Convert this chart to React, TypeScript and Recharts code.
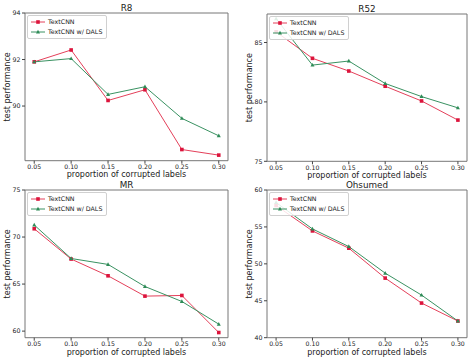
import React from "react";
import {
  LineChart,
  Line,
  XAxis,
  YAxis,
  ReferenceArea,
  Legend,
} from "recharts";

// corruption ratios on the x axis
const proportions = [0.05, 0.1, 0.15, 0.2, 0.25, 0.3];
const xTicks = [0.05, 0.1, 0.15, 0.2, 0.25, 0.3];

const r8TextCnn = [91.9, 92.41, 90.24, 90.7, 88.13, 87.89];
const r8Dals = [91.9, 92.04, 90.5, 90.83, 89.47, 88.72];
const r8Ticks = [90, 92, 94];

const r52TextCnn = [85.9, 83.67, 82.6, 81.32, 80.08, 78.47];
const r52Dals = [87.0, 83.1, 83.44, 81.55, 80.45, 79.5];
const r52Ticks = [75, 80, 85];

const mrTextCnn = [70.88, 67.66, 65.88, 63.72, 63.79, 59.85];
const mrDals = [71.28, 67.72, 67.09, 64.74, 63.15, 60.74];
const mrTicks = [60, 65, 70, 75];

const ohsumedTextCnn = [57.9, 54.46, 52.12, 48.07, 44.69, 42.26];
const ohsumedDals = [58.3, 54.73, 52.34, 48.74, 45.77, 42.26];
const ohsumedTicks = [40, 45, 50, 55, 60];

const RED = "#dc143c";
const RED_LINE = "#e4405a";
const GREEN = "#2e8b57";
const GREEN_LINE = "#3a9262";
const FONT = "DejaVu Sans";
const X_DOMAIN: [number, number] = [0.0375, 0.3125];

const SquareDot = (props: any) => {
  const { cx, cy } = props;
  if (cx == null || cy == null) return null;
  return <rect x={cx - 1.8} y={cy - 1.8} width={3.6} height={3.6} fill={RED} />;
};

const TriangleDot = (props: any) => {
  const { cx, cy } = props;
  if (cx == null || cy == null) return null;
  return (
    <polygon
      points={`${cx},${cy - 2.2} ${cx - 2},${cy + 1.5} ${cx + 2},${cy + 1.5}`}
      fill={GREEN}
    />
  );
};

const LegendBox = () => (
  <div
    style={{
      background: "rgba(255,255,255,0.85)",
      border: "1px solid #d0d0d0",
      borderRadius: 2,
      padding: "1px 4px 1px 3px",
      fontFamily: FONT,
      fontSize: 6.3,
      lineHeight: "10px",
      color: "#222",
      whiteSpace: "nowrap",
    }}
  >
    <div style={{ display: "flex", alignItems: "center" }}>
      <svg width={14} height={6} style={{ marginRight: 3 }}>
        <line x1={0} y1={3} x2={14} y2={3} stroke={RED_LINE} strokeWidth={1} />
        <rect x={5.2} y={1.2} width={3.6} height={3.6} fill={RED} />
      </svg>
      TextCNN
    </div>
    <div style={{ display: "flex", alignItems: "center" }}>
      <svg width={14} height={6} style={{ marginRight: 3 }}>
        <line x1={0} y1={3} x2={14} y2={3} stroke={GREEN_LINE} strokeWidth={1} />
        <polygon points="7,0.8 5,4.5 9,4.5" fill={GREEN} />
      </svg>
      TextCNN w/ DALS
    </div>
  </div>
);

type PanelProps = {
  title: string;
  cnn: number[];
  dals: number[];
  yTicks: number[];
  yDomain: [number, number];
  left: number;
  top: number;
  width: number;
  height: number;
  axisWidth: number;
  marginTop: number;
  marginRight: number;
  axisHeight: number;
  labelOffset: number;
};

function Panel(p: PanelProps) {
  const data = proportions.map((x, i) => ({
    x,
    cnn: p.cnn[i],
    dals: p.dals[i],
  }));

  const yLabel = (props: any) => {
    const vb = props.viewBox || {};
    const x = vb.x + vb.width - 17.5;
    const y = vb.y + vb.height / 2;
    return (
      <text
        x={x}
        y={y}
        transform={`rotate(-90 ${x} ${y})`}
        textAnchor="middle"
        dominantBaseline="central"
        fontFamily={FONT}
        fontSize={8}
        fill="#222"
      >
        test performance
      </text>
    );
  };

  return (
    <div style={{ position: "absolute", left: p.left, top: p.top }}>
      <LineChart
        width={p.width}
        height={p.height}
        data={data}
        margin={{ top: p.marginTop, right: p.marginRight, bottom: 0, left: 0 }}
      >
        <XAxis
          dataKey="x"
          type="number"
          domain={X_DOMAIN}
          ticks={xTicks}
          tickFormatter={(v: number) => v.toFixed(2)}
          axisLine={false}
          tickSize={3}
          tickMargin={1}
          tickLine={{ stroke: "#444" }}
          tick={{ fontSize: 6.2, fill: "#222", fontFamily: FONT }}
          height={p.axisHeight}
          label={{
            value: "proportion of corrupted labels",
            position: "insideBottom",
            offset: p.labelOffset,
            style: { fontSize: 8, fill: "#222", fontFamily: FONT },
          }}
        />
        <YAxis
          type="number"
          domain={p.yDomain}
          ticks={p.yTicks}
          axisLine={false}
          tickSize={3}
          tickMargin={1.5}
          tickLine={{ stroke: "#444" }}
          tick={{ fontSize: 6.3, fill: "#222", fontFamily: FONT }}
          width={p.axisWidth}
          label={{ content: yLabel }}
        />
        <ReferenceArea
          x1={X_DOMAIN[0]}
          x2={X_DOMAIN[1]}
          y1={p.yDomain[0]}
          y2={p.yDomain[1]}
          fill="none"
          stroke="#777"
          strokeWidth={1}
          label={{
            value: p.title,
            position: "top",
            offset: 2,
            style: { fontSize: 8.8, fill: "#222", fontFamily: FONT },
          }}
        />
        <Line
          dataKey="cnn"
          type="linear"
          stroke={RED_LINE}
          strokeWidth={1}
          dot={<SquareDot />}
          activeDot={false}
          isAnimationActive={false}
        />
        <Line
          dataKey="dals"
          type="linear"
          stroke={GREEN_LINE}
          strokeWidth={1}
          dot={<TriangleDot />}
          activeDot={false}
          isAnimationActive={false}
        />
        <Legend
          layout="vertical"
          align="center"
          verticalAlign="middle"
          content={<LegendBox />}
          wrapperStyle={{
            left: p.axisWidth + 2,
            top: p.marginTop + 2,
            width: "auto",
            height: "auto",
          }}
        />
      </LineChart>
    </div>
  );
}

export default function App() {
  return (
    <div
      style={{
        position: "absolute",
        left: 0,
        top: 0,
        width: 474,
        height: 361,
        background: "#fff",
      }}
    >
      <Panel
        title="R8"
        cnn={r8TextCnn}
        dals={r8Dals}
        yTicks={r8Ticks}
        yDomain={[87.65, 94]}
        left={0}
        top={0}
        width={237}
        height={180}
        axisWidth={25}
        marginTop={13}
        marginRight={9}
        axisHeight={19.3}
        labelOffset={3}
      />
      <Panel
        title="R52"
        cnn={r52TextCnn}
        dals={r52Dals}
        yTicks={r52Ticks}
        yDomain={[75, 87.4]}
        left={237}
        top={0}
        width={237}
        height={180}
        axisWidth={30}
        marginTop={14}
        marginRight={7}
        axisHeight={18.7}
        labelOffset={2.5}
      />
      <Panel
        title="MR"
        cnn={mrTextCnn}
        dals={mrDals}
        yTicks={mrTicks}
        yDomain={[59.3, 75]}
        left={0}
        top={180}
        width={237}
        height={181}
        axisWidth={25}
        marginTop={10}
        marginRight={9}
        axisHeight={23.3}
        labelOffset={5.8}
      />
      <Panel
        title="Ohsumed"
        cnn={ohsumedTextCnn}
        dals={ohsumedDals}
        yTicks={ohsumedTicks}
        yDomain={[40, 60]}
        left={237}
        top={180}
        width={237}
        height={181}
        axisWidth={30}
        marginTop={10}
        marginRight={7}
        axisHeight={23.3}
        labelOffset={5.8}
      />
    </div>
  );
}
